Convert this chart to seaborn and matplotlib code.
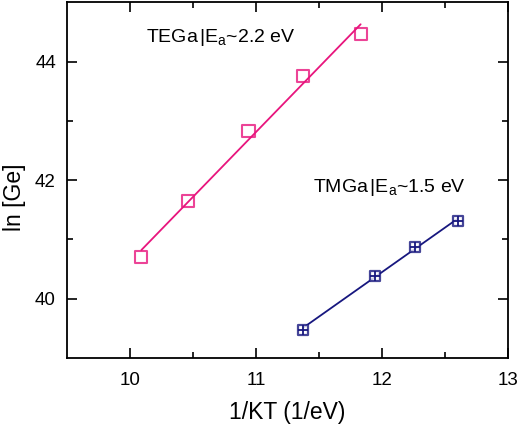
import numpy as np
import pandas as pd
import matplotlib
matplotlib.use("Agg")
import matplotlib.pyplot as plt
import seaborn as sns

sns.set_style("ticks")
plt.rcParams['font.family'] = ['Liberation Sans', 'DejaVu Sans']
plt.rcParams['mathtext.fontset'] = 'custom'
plt.rcParams['mathtext.rm'] = 'Liberation Sans'
plt.rcParams['mathtext.it'] = 'Liberation Sans'
plt.rcParams['text.color'] = 'black'
plt.rcParams['axes.labelcolor'] = 'black'
plt.rcParams['xtick.color'] = 'black'
plt.rcParams['ytick.color'] = 'black'

tega_x = [10.09, 10.457, 10.94, 11.37, 11.83]
tega_y = [40.70, 41.64, 42.83, 43.75, 44.46]
tmga_x = [11.37, 11.945, 12.26, 12.60]
tmga_y = [39.48, 40.39, 40.88, 41.31]

pink = "#E8157D"
navy = "#17177F"

fig = plt.figure(figsize=(5.2, 4.28), dpi=100)
ax = fig.add_axes([0.129, 0.1636, 0.848, 0.831])

df1 = pd.DataFrame({"x": tega_x, "y": tega_y})
df2 = pd.DataFrame({"x": tmga_x, "y": tmga_y})

sns.regplot(data=df1, x="x", y="y", ax=ax, ci=None, color=pink, marker="s",
            scatter_kws=dict(s=75, facecolors="none", edgecolors=pink, linewidths=1.5, zorder=3),
            line_kws=dict(lw=1.3, zorder=2))
sns.regplot(data=df2, x="x", y="y", ax=ax, ci=None, color=navy, marker="s",
            scatter_kws=dict(s=60, facecolors="white", edgecolors=navy, linewidths=1.6, zorder=3),
            line_kws=dict(lw=1.3, zorder=2))
sns.scatterplot(data=df2, x="x", y="y", ax=ax, marker="+", s=45, color=navy, linewidth=1.3, zorder=4, legend=False)

ax.set_xlim(9.5, 13.0)
ax.set_ylim(39.0, 45.0)
ax.set_xticks([10, 11, 12, 13])
ax.set_xticks([10.5, 11.5, 12.5], minor=True)
ax.set_yticks([40, 42, 44])
ax.set_yticks([41, 43], minor=True)
ax.tick_params(which="both", direction="in", top=True, right=True, labelsize=13.5, width=1.2, colors="black")
ax.tick_params(which="major", length=7)
ax.tick_params(which="minor", length=4)
ax.tick_params(axis="x", pad=10)
ax.tick_params(axis="y", pad=8)
for sp in ax.spines.values():
    sp.set_visible(True)
    sp.set_linewidth(1.3)
    sp.set_color("black")

ax.set_xlabel("1/KT (1/eV)", fontsize=16.5)
ax.xaxis.set_label_coords(0.5, -0.121)
ax.set_ylabel("ln [Ge]", fontsize=16.5)
ax.yaxis.set_label_coords(-0.093, 0.452)

ax.text(10.13, 44.40, r"TEGa$\,|$E$_a$~2.2 eV", fontsize=14, va="center", ha="left")
ax.text(11.45, 41.88, r"TMGa$\,|$E$_a$~1.5 eV", fontsize=14, va="center", ha="left")

fig.savefig("out.png", dpi=100)
